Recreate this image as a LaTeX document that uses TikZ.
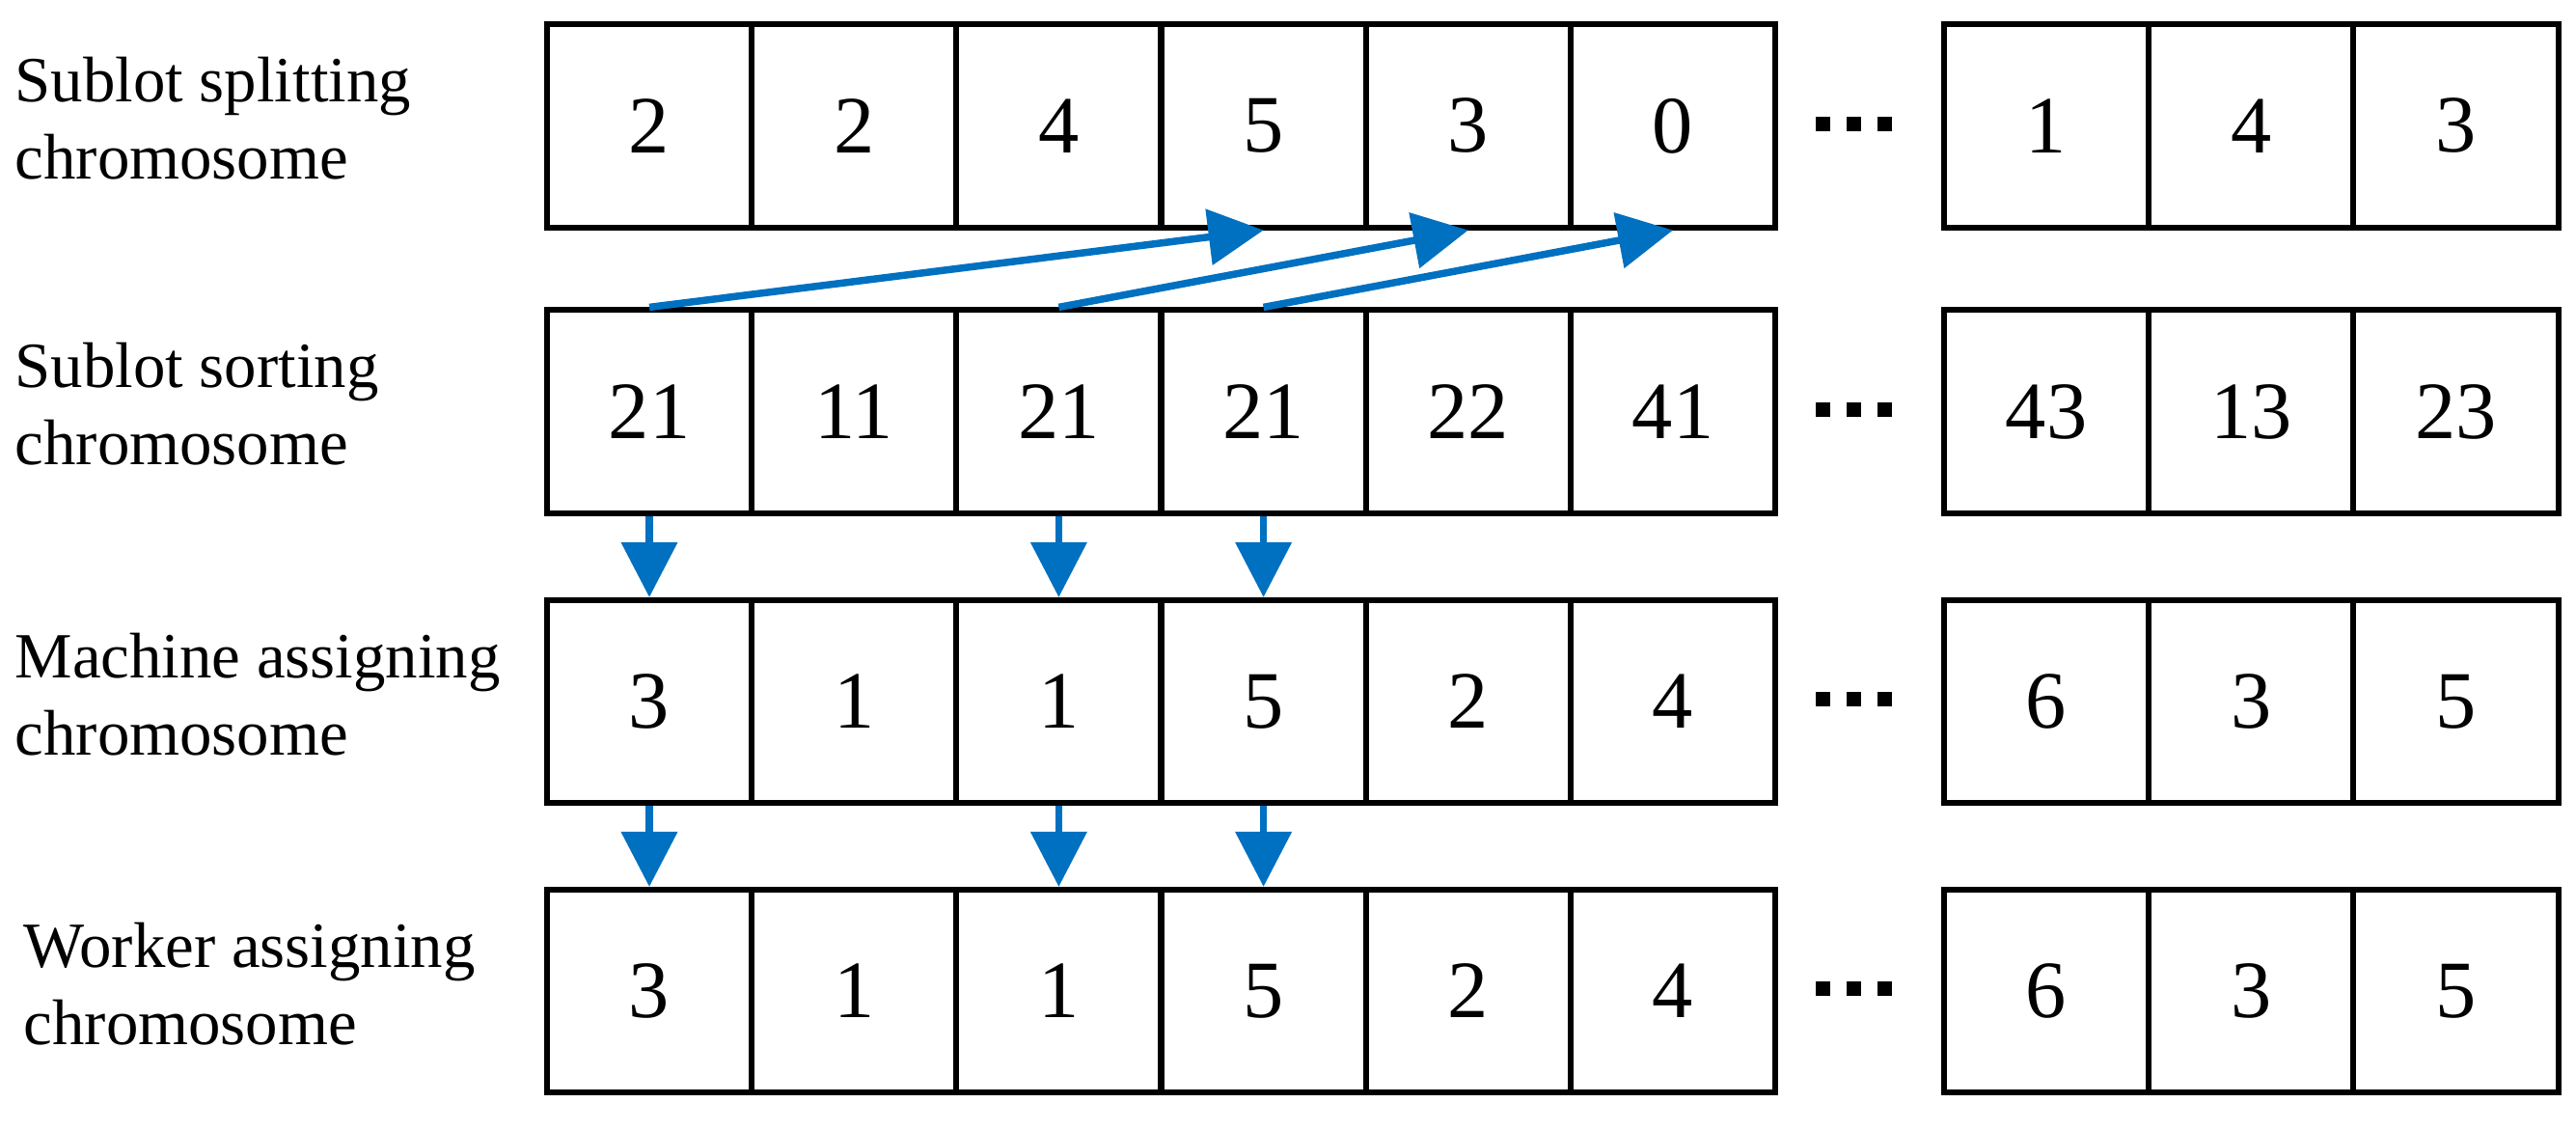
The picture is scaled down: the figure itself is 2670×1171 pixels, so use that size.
\documentclass[tikz,border=0pt]{standalone}
\usepackage{fontspec}
\setmainfont{Liberation Serif}
\usetikzlibrary{arrows.meta}
\definecolor{linkblue}{RGB}{0,112,192}

\begin{document}
\begin{tikzpicture}[x=0.01cm,y=0.01cm,
  cell/.style={draw,line width=0.06cm,minimum width=2.12cm,minimum height=2.1cm,inner sep=0pt,font=\fontsize{24}{28}\selectfont},
  rowlabel/.style={anchor=west,align=left,inner sep=0pt,font=\fontsize{19}{22.8}\selectfont},
  link/.style={draw=linkblue,line width=0.075cm,-{Triangle[length=0.57cm,width=0.57cm]}}]
  \useasboundingbox (0,0) rectangle (2670,1171);

  \foreach \row/\y/\vals in {split/1040.5/{2,2,4,5,3,0,1,4,3},
                             sort/744.5/{21,11,21,21,22,41,43,13,23},
                             mach/444/{3,1,1,5,2,4,6,3,5},
                             work/144/{3,1,1,5,2,4,6,3,5}} {
    \foreach \v [count=\i] in \vals
      \node[cell] (\row\i) at ({673+212.2*(\i-1)+174.8*(\i>6)},\y) {\v};
    \foreach \d in {0,1,2}
      \fill (1882+32*\d,\y-5.5) rectangle +(15,15);
  }

  \node[rowlabel] (splitlabel) at (15,1048) {Sublot splitting\\chromosome};
  \node[rowlabel] (sortlabel) at (15,752) {Sublot sorting\\chromosome};
  \node[rowlabel] (machlabel) at (15,451) {Machine assigning\\chromosome};
  \node[rowlabel] (worklabel) at (24,151) {Worker assigning\\chromosome};

  \draw[link] (sort1.north) -- (split4.south);
  \draw[link] (sort3.north) -- (split5.south);
  \draw[link] (sort4.north) -- (split6.south);
  \foreach \i in {1,3,4} {
    \draw[link] (sort\i.south) -- (mach\i.north);
    \draw[link] (mach\i.south) -- (work\i.north);
  }
\end{tikzpicture}
\end{document}
